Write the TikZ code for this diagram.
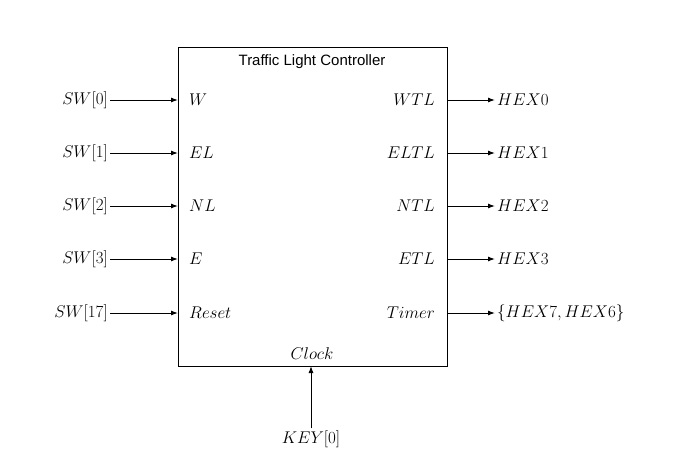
\documentclass[tikz,border=0pt]{standalone}
\usepackage{fontspec}
\usepackage{fix-cm}
\usetikzlibrary{arrows.meta}
\newfontfamily\sansf{Liberation Sans}
\begin{document}
\begin{tikzpicture}[x=1pt,y=-1pt,font=\fontsize{17}{19}\selectfont,
  arr/.style={-{Latex[length=7pt,width=5pt]},line width=1pt},
  lab/.style={inner sep=2pt}]
\useasboundingbox (0,0) rectangle (690,474);
\node[draw,line width=1pt,minimum width=269pt,minimum height=319pt,inner sep=0pt,anchor=north west] (box) at (178,47) {};
\node[font=\sansf\fontsize{15}{17}\selectfont] (title) at (312,62) {Traffic Light Controller};
\foreach \y/\i/\o/\n/\h in {100/0/W/WTL/0,153/1/EL/ELTL/1,206/2/NL/NTL/2,259/3/E/ETL/3}{
  \node[lab,anchor=east] (in\i) at (110,\y) {$SW[\i]$};
  \node[lab,anchor=west] (pi\i) at (187,\y) {$\o$};
  \coordinate (l\i) at (178,\y);
  \draw[arr] (in\i.east) -- (l\i);
  \node[lab,anchor=east] (po\i) at (437,\y) {$\n$};
  \coordinate (r\i) at (447,\y);
  \node[lab,anchor=west] (out\i) at (495,\y) {$HEX\h$};
  \draw[arr] (r\i) -- (out\i.west);
}
\node[lab,anchor=east] (in4) at (110,313) {$SW[17]$};
\node[lab,anchor=west] (pi4) at (187,313) {$Reset$};
\coordinate (l4) at (178,313);
\draw[arr] (in4.east) -- (l4);
\node[lab,anchor=east] (po4) at (437,313) {$Timer$};
\coordinate (r4) at (447,313);
\node[lab,anchor=west] (out4) at (495,313) {$\{HEX7,HEX6\}$};
\draw[arr] (r4) -- (out4.west);
\node[lab] (clk) at (312,354) {$Clock$};
\node[lab] (key) at (311,439) {$KEY[0]$};
\coordinate (b) at (311,366);
\draw[arr] (key.north) -- (b);
\end{tikzpicture}
\end{document}
